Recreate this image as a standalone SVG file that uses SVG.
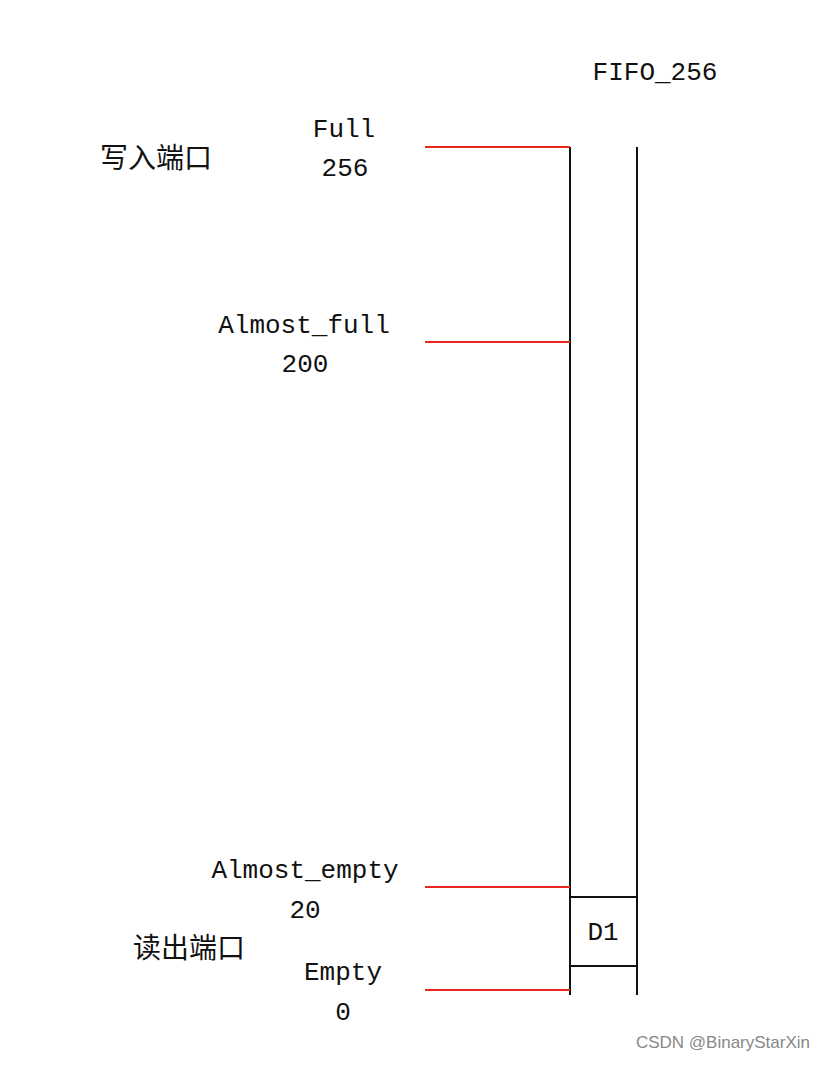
<svg xmlns="http://www.w3.org/2000/svg" width="824" height="1087" viewBox="0 0 824 1087">
<style>
.t{font-family:"Liberation Mono",monospace;font-size:26px;fill:#111;text-anchor:middle}
.c{font-family:"Noto Sans CJK SC",sans-serif;font-size:28px;fill:#111}
.r{stroke:#e8281e;stroke-width:2}
.k{stroke:#111;stroke-width:2;fill:none}
</style>
<rect width="824" height="1087" fill="#fff"/>
<g id="fifo">
<line class="k" x1="570" y1="147" x2="570" y2="995"/>
<line class="k" x1="637" y1="147" x2="637" y2="995"/>
<text class="t" x="655" y="80">FIFO_256</text>
</g>
<g id="d1">
<rect class="k" x="570" y="897" width="67" height="69"/>
<text class="t" x="603" y="940">D1</text>
</g>
<g id="connectors">
<line class="r" x1="425" y1="147" x2="570" y2="147"/>
<line class="r" x1="425" y1="342" x2="570" y2="342"/>
<line class="r" x1="425" y1="887" x2="570" y2="887"/>
<line class="r" x1="425" y1="990" x2="570" y2="990"/>
</g>
<g id="full"><text class="t" x="344" y="137">Full</text><text class="t" x="345" y="176">256</text></g>
<g id="almost_full"><text class="t" x="304" y="333">Almost_full</text><text class="t" x="305" y="372">200</text></g>
<g id="almost_empty"><text class="t" x="305" y="878">Almost_empty</text><text class="t" x="305" y="918">20</text></g>
<g id="empty"><text class="t" x="343" y="980">Empty</text><text class="t" x="343" y="1020">0</text></g>
<g id="ports">
<text class="c" x="100" y="168">写入端口</text>
<text class="c" x="133" y="958">读出端口</text>
</g>
<text x="810" y="1048" text-anchor="end" font-family="Liberation Sans,sans-serif" font-size="17" fill="#888">CSDN @BinaryStarXin</text>
</svg>
